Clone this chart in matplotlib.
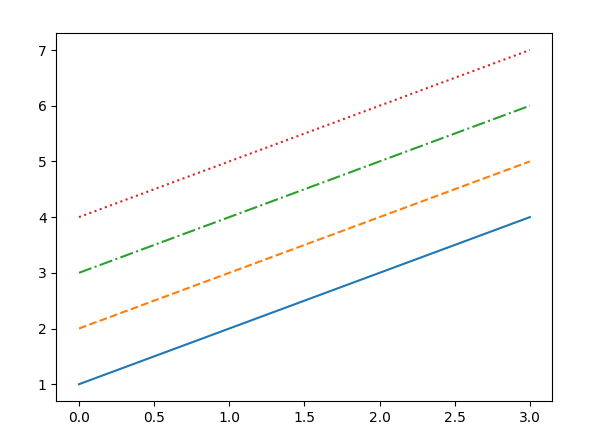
import matplotlib
matplotlib.use('Agg')
import matplotlib.pyplot as plt

x = [0, 1, 2, 3]
y_solid = [1, 2, 3, 4]
y_dashed = [2, 3, 4, 5]
y_dashdot = [3, 4, 5, 6]
y_dotted = [4, 5, 6, 7]

fig = plt.figure(figsize=(5.94, 4.44), dpi=100)
ax = fig.add_subplot()
fig.subplots_adjust(left=0.095, right=0.930, bottom=0.097, top=0.925)

ax.plot(x, y_solid, linestyle='-')
ax.plot(x, y_dashed, linestyle='--')
ax.plot(x, y_dashdot, linestyle='-.')
ax.plot(x, y_dotted, linestyle=':')

plt.savefig("out.png", dpi=100)
